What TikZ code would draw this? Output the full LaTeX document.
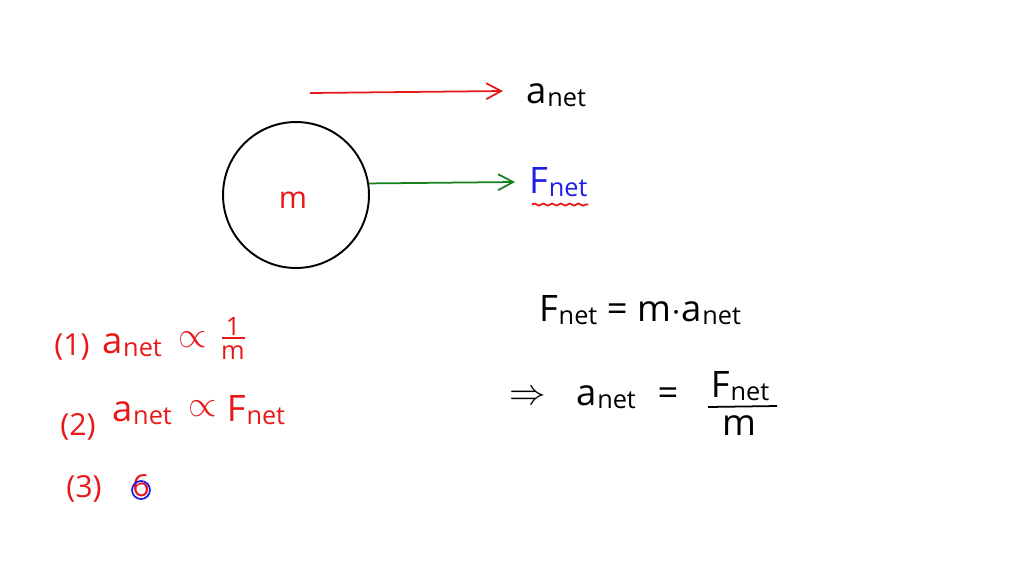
\documentclass[tikz,border=0pt]{standalone}
\usepackage{fontspec}
\setmainfont{Open Sans}
\definecolor{PenRed}{RGB}{232, 24, 24}
\definecolor{PenGreen}{RGB}{22, 128, 30}
\definecolor{PenBlue}{RGB}{30, 30, 230}
\usetikzlibrary{arrows.meta, positioning, decorations.pathmorphing}
\newcommand{\nt}[1]{#1\kern0.5pt\raisebox{-0.15ex}{\Large net}}

\begin{document}
\begin{tikzpicture}[x=0.02cm, y=-0.02cm, every node/.style={font=\huge},
    vec/.style={-{Straight Barb[length=3mm, width=3.2mm]}, line width=1pt}]
            \useasboundingbox (0,0) rectangle (1024,576);
            % body and its vectors
            \node[circle, draw, line width=1.1pt, minimum size=2.92cm] (mass) at (296,195) {};
            \node[text=PenRed, font=\LARGE] (mlabel) at (293,200) {m};
            \coordinate (atail) at (310,93);
            \node[anchor=west] (alabel) at (520,95) {\nt{a}};
            \node[anchor=west, text=PenBlue] (flabel) at (523,182) {\nt{F}};
            \draw[vec, PenRed] (atail) -- ([xshift=-0.34cm, yshift=0.08cm]alabel.west);
            \draw[vec, PenGreen] (mass.9) -- ([xshift=-0.16cm]flabel.west);
            \draw[PenRed, line width=1pt, decorate, decoration={snake, amplitude=0.6pt, segment length=5pt}]
                ([xshift=5pt, yshift=-1pt]flabel.south west) -- ([xshift=-3pt, yshift=-1pt]flabel.south east);
            % Newton's law
            \node (law) at (640,310) {\nt{F} = m$\cdot$\nt{a}};
            \node (impl) at (528,398) {$\Rightarrow$};
            \node (alhs) at (606,397) {\nt{a}};
            \node (eq) at (668,397) {=};
            \node (fnum) at (740,386) {\nt{F}};
            \node (fden) at (739,426) {m};
            \draw[line width=1pt] (708,407) -- (777,406);
            % relations
            \begin{scope}[every node/.style={font=\huge, text=PenRed}]
                \node (one) at (72,347) {\LARGE (1)};
                \node (aone) at (132,345) {\nt{a}};
                \node (pone) at (193,340) {$\propto$};
                \node[font=\Large] (inum) at (233,326) {1};
                \node[font=\Large] (iden) at (233,353) {m};
                \node (two) at (78,427) {\LARGE (2)};
                \node (atwo) at (142,413) {\nt{a}};
                \node (ptwo) at (203,409) {$\propto$};
                \node (ftwo) at (256,410) {\nt{F}};
                \node (three) at (84,489) {\LARGE (3)};
                \node (six) at (141,486) {\LARGE 6};
            \end{scope}
            \draw[PenRed, line width=1pt] (222,338) -- (245,338);
            \draw[PenBlue, line width=1pt] (six.center) ++(0,4) circle (0.18cm);
        \end{tikzpicture}
\end{document}
